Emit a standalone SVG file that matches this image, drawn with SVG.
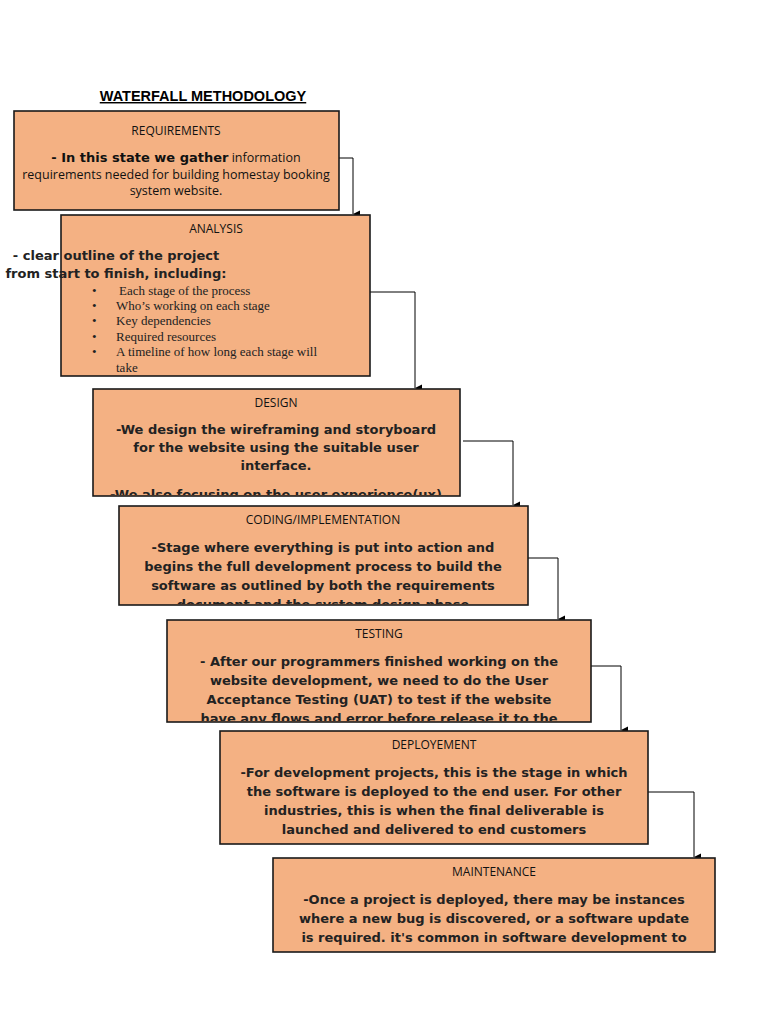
<svg xmlns="http://www.w3.org/2000/svg" width="768" height="1024" viewBox="0 0 768 1024">
<style>
.box{fill:#f4b183;stroke:#1a1a1a;stroke-width:1.6}
.h{font-family:"Open Sans","Liberation Sans",sans-serif;font-size:12px;fill:#111;text-anchor:middle}
.b{font-family:"DejaVu Sans","Liberation Sans",sans-serif;font-weight:bold;font-size:13px;fill:#222;text-anchor:middle}
.n{font-family:"Open Sans","Liberation Sans",sans-serif;font-size:12.5px;fill:#111;text-anchor:middle}
.s{font-family:"Liberation Serif",serif;font-size:13px;fill:#222}
.c{fill:none;stroke:#000;stroke-width:1}
</style>
<defs>
<marker id="a" markerWidth="8" markerHeight="8" refX="4" refY="7" orient="auto" markerUnits="userSpaceOnUse"><path d="M0,0 L8,0 L4,8 z" fill="#000" transform="translate(0,-1)"/></marker>
<clipPath id="c3"><rect x="93" y="389" width="367" height="106"/></clipPath>
<clipPath id="c4"><rect x="119" y="506" width="409" height="98"/></clipPath>
<clipPath id="c5"><rect x="167" y="620" width="424" height="101"/></clipPath>
<clipPath id="c7"><rect x="273" y="858" width="442" height="93"/></clipPath>
</defs>
<text x="203" y="101" font-family="Liberation Sans,sans-serif" font-weight="bold" font-size="14.5" text-anchor="middle" text-decoration="underline" fill="#000">WATERFALL METHODOLOGY</text>
<g id="connectors">
<path class="c" d="M339,158 H353 V214" marker-end="url(#a)"/>
<path class="c" d="M370,292 H415 V388" marker-end="url(#a)"/>
<path class="c" d="M463,441 H513 V505" marker-end="url(#a)"/>
<path class="c" d="M528,558 H558 V619" marker-end="url(#a)"/>
<path class="c" d="M591,666 H621 V730" marker-end="url(#a)"/>
<path class="c" d="M648,792 H694 V857" marker-end="url(#a)"/>
</g>
<g id="requirements">
<rect class="box" x="14" y="111" width="325" height="99"/>
<text class="h" x="176" y="135">REQUIREMENTS</text>
<text class="n" x="176" y="162"><tspan font-family="DejaVu Sans,sans-serif" font-weight="bold" font-size="13">- In this state we gather</tspan> information</text>
<text class="n" x="176" y="179">requirements needed for building homestay booking</text>
<text class="n" x="176" y="195">system website.</text>
</g>
<g id="analysis">
<rect class="box" x="61" y="215" width="309" height="161"/>
<text class="h" x="216" y="233">ANALYSIS</text>
<text class="b" x="116" y="260" text-anchor="start">- clear outline of the project</text>
<text class="b" x="116" y="278" text-anchor="start">from start to finish, including:</text>
<g class="s">
<text x="92" y="295">•</text><text x="119" y="295">Each stage of the process</text>
<text x="92" y="310">•</text><text x="116" y="310">Who’s working on each stage</text>
<text x="92" y="325">•</text><text x="116" y="325">Key dependencies</text>
<text x="92" y="341">•</text><text x="116" y="341">Required resources</text>
<text x="92" y="356">•</text><text x="116" y="356">A timeline of how long each stage will</text>
<text x="116" y="372">take</text>
</g>
</g>
<g id="design">
<rect class="box" x="93" y="389" width="367" height="107"/>
<text class="h" x="276" y="407">DESIGN</text>
<g clip-path="url(#c3)">
<text class="b" x="276" y="434">-We design the wireframing and storyboard</text>
<text class="b" x="276" y="452">for the website using the suitable user</text>
<text class="b" x="276" y="470">interface.</text>
<text class="b" x="276" y="499">-We also focusing on the user experience(ux)</text>
</g>
</g>
<g id="coding">
<rect class="box" x="119" y="506" width="409" height="99"/>
<text class="h" x="323" y="524">CODING/IMPLEMENTATION</text>
<g clip-path="url(#c4)">
<text class="b" x="323" y="552">-Stage where everything is put into action and</text>
<text class="b" x="323" y="571">begins the full development process to build the</text>
<text class="b" x="323" y="590">software as outlined by both the requirements</text>
<text class="b" x="323" y="609">document and the system design phase</text>
</g>
</g>
<g id="testing">
<rect class="box" x="167" y="620" width="424" height="102"/>
<text class="h" x="379" y="638">TESTING</text>
<g clip-path="url(#c5)">
<text class="b" x="379" y="666">- After our programmers finished working on the</text>
<text class="b" x="379" y="685">website development, we need to do the User</text>
<text class="b" x="379" y="704">Acceptance Testing (UAT) to test if the website</text>
<text class="b" x="379" y="723">have any flows and error before release it to the</text>
</g>
</g>
<g id="deployement">
<rect class="box" x="220" y="731" width="428" height="113"/>
<text class="h" x="434" y="749">DEPLOYEMENT</text>
<text class="b" x="434" y="777">-For development projects, this is the stage in which</text>
<text class="b" x="434" y="796">the software is deployed to the end user. For other</text>
<text class="b" x="434" y="815">industries, this is when the final deliverable is</text>
<text class="b" x="434" y="834">launched and delivered to end customers</text>
</g>
<g id="maintenance">
<rect class="box" x="273" y="858" width="442" height="94"/>
<text class="h" x="494" y="876">MAINTENANCE</text>
<g clip-path="url(#c7)">
<text class="b" x="494" y="904">-Once a project is deployed, there may be instances</text>
<text class="b" x="494" y="923">where a new bug is discovered, or a software update</text>
<text class="b" x="494" y="942">is required. it's common in software development to</text>
</g>
</g>
</svg>
